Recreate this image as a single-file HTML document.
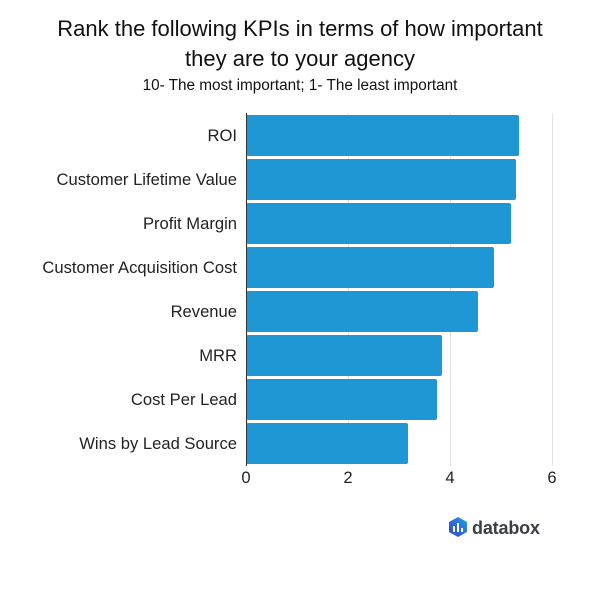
<!DOCTYPE html>
<html><head><style>body{margin:0;background:#fff;}</style></head><body>
<svg width="600" height="600" xmlns="http://www.w3.org/2000/svg" font-family="Liberation Sans, sans-serif">
<rect width="600" height="600" fill="#fff"/>
<text x="300" y="36" text-anchor="middle" font-size="22" fill="#111">Rank the following KPIs in terms of how important</text>
<text x="300" y="66" text-anchor="middle" font-size="22" fill="#111">they are to your agency</text>
<text x="300" y="90" text-anchor="middle" font-size="15.3" fill="#111">10- The most important; 1- The least important</text>
<g stroke="#e3e3e3" stroke-width="1">
<line x1="348.5" y1="113" x2="348.5" y2="466"/>
<line x1="450.5" y1="113" x2="450.5" y2="466"/>
<line x1="552.5" y1="113" x2="552.5" y2="466"/>
</g>
<g fill="#1f97d4">
<rect x="246" y="115" width="273" height="41" rx="2"/>
<rect x="246" y="159" width="270" height="41" rx="2"/>
<rect x="246" y="203" width="265" height="41" rx="2"/>
<rect x="246" y="247" width="248" height="41" rx="2"/>
<rect x="246" y="291" width="232" height="41" rx="2"/>
<rect x="246" y="335" width="196" height="41" rx="2"/>
<rect x="246" y="379" width="191" height="41" rx="2"/>
<rect x="246" y="423" width="162" height="41" rx="2"/>
</g>
<line x1="246.5" y1="113" x2="246.5" y2="466" stroke="#333" stroke-width="1"/>
<g font-size="16.6" fill="#222" text-anchor="end">
<text x="237" y="141">ROI</text>
<text x="237" y="185">Customer Lifetime Value</text>
<text x="237" y="229">Profit Margin</text>
<text x="237" y="273">Customer Acquisition Cost</text>
<text x="237" y="317">Revenue</text>
<text x="237" y="361">MRR</text>
<text x="237" y="405">Cost Per Lead</text>
<text x="237" y="449">Wins by Lead Source</text>
</g>
<g font-size="16.6" fill="#222" text-anchor="middle">
<text x="246" y="483">0</text>
<text x="348" y="483">2</text>
<text x="450" y="483">4</text>
<text x="552" y="483">6</text>
</g>
<defs><linearGradient id="g" x1="0" y1="1" x2="1" y2="0"><stop offset="0" stop-color="#3a3fc8"/><stop offset="1" stop-color="#1fa2e0"/></linearGradient></defs>
<polygon points="458,517 467,522 467,532 458,537 449,532 449,522" fill="url(#g)"/>
<rect x="453" y="526" width="2" height="6" fill="#fff"/>
<rect x="457" y="523" width="2" height="9" fill="#fff"/>
<rect x="461" y="528" width="2" height="4" fill="#fff"/>
<text x="472" y="534" font-size="18" font-weight="bold" fill="#3a3d45" textLength="68">databox</text>
</svg>
</body></html>
